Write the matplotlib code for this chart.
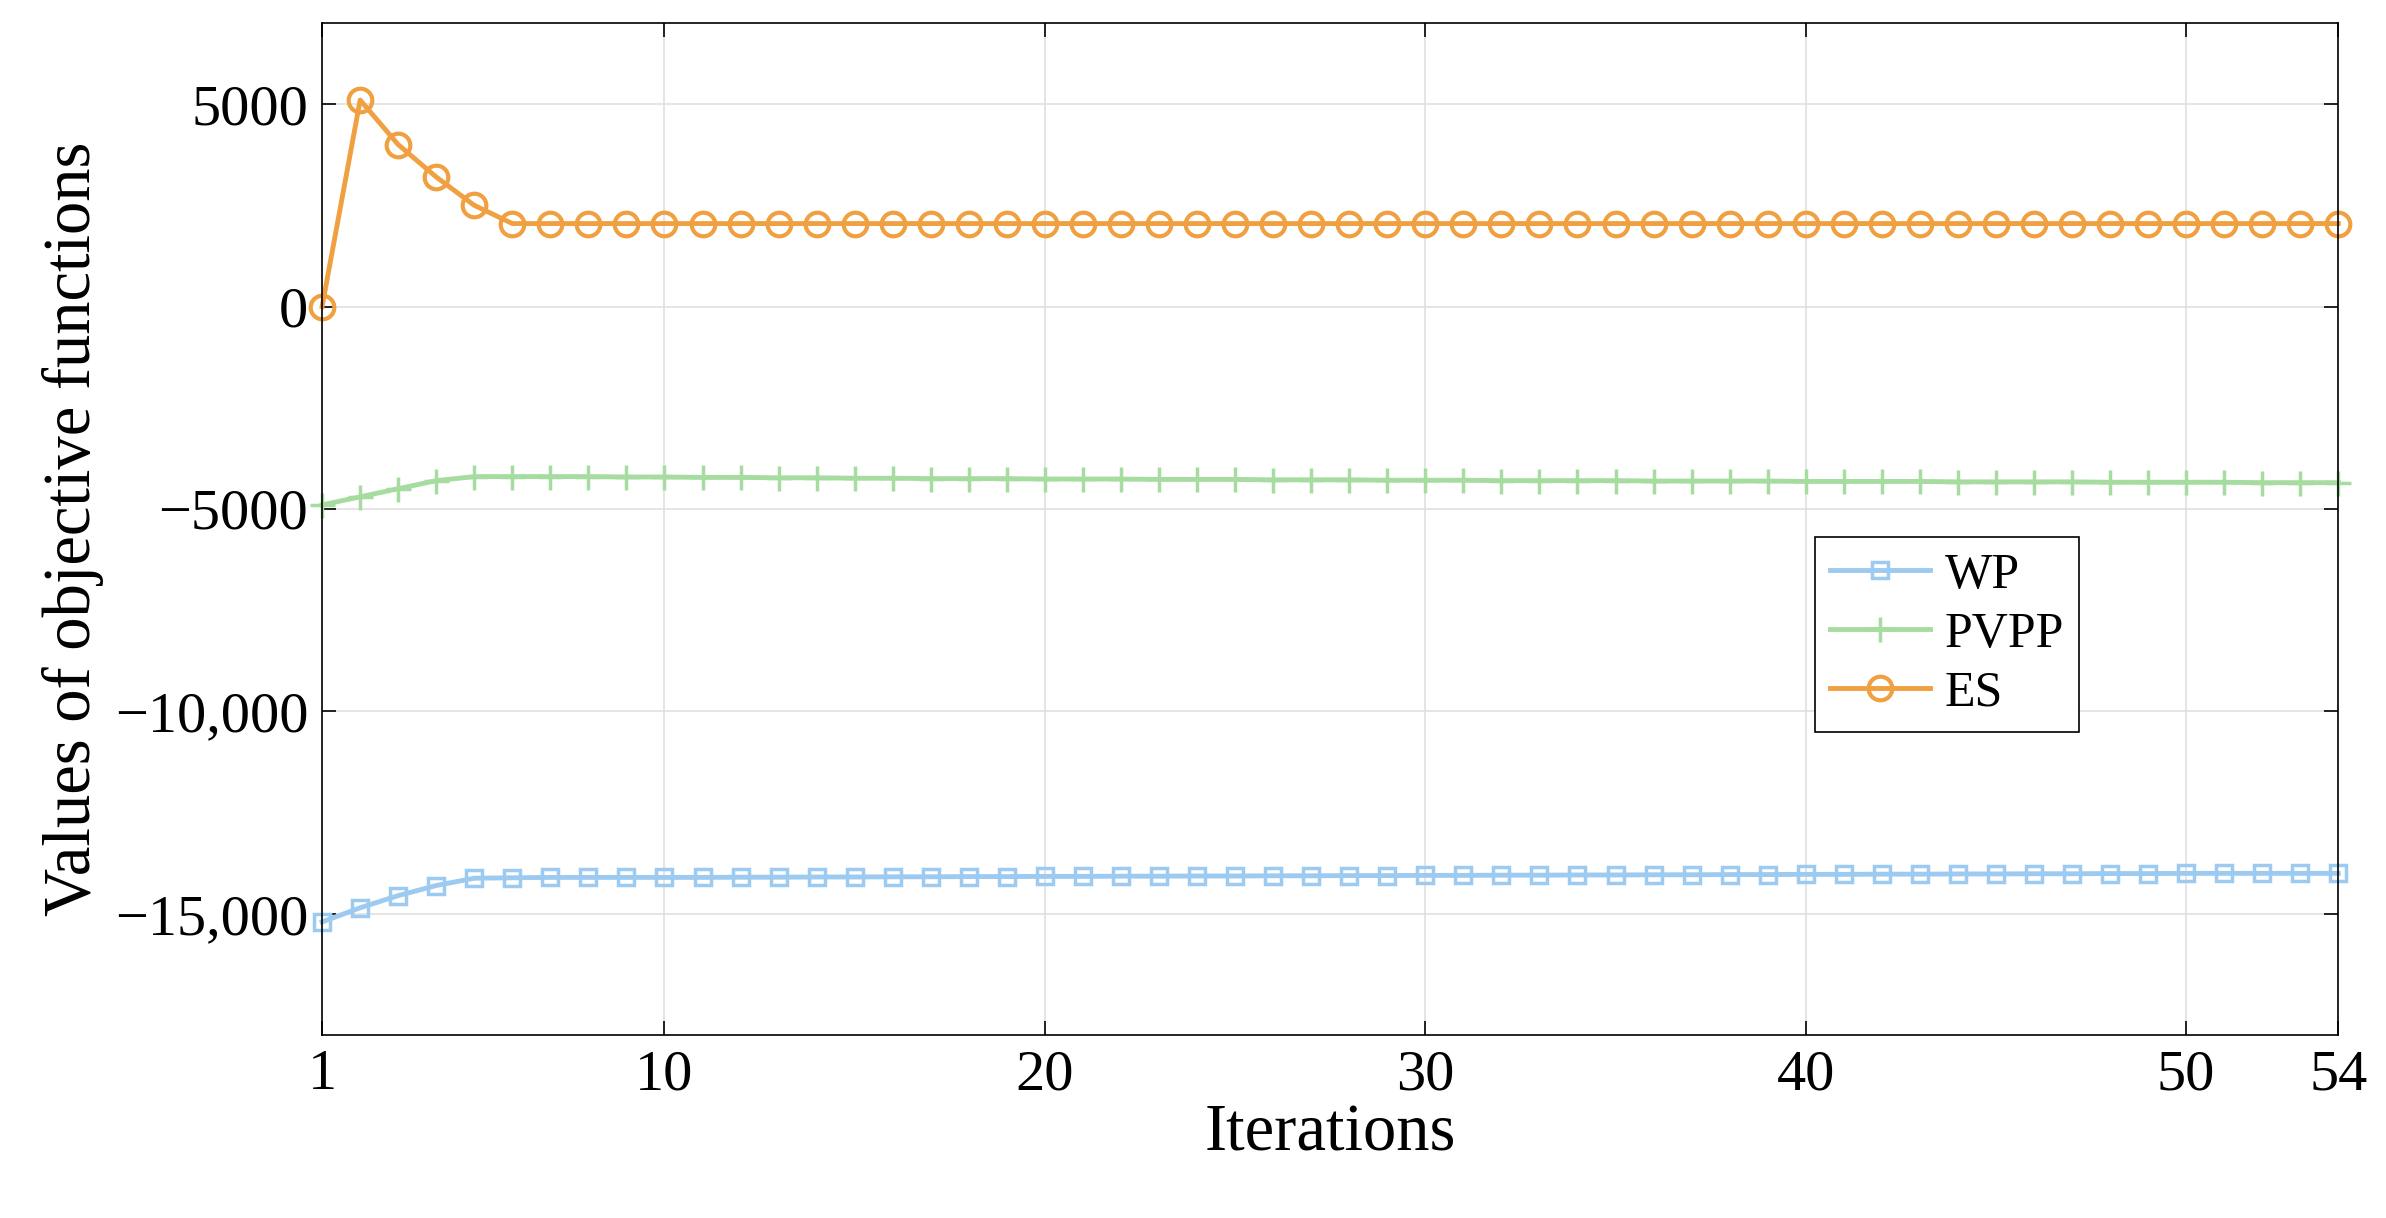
import numpy as np
import matplotlib.pyplot as plt

plt.rcParams['font.family'] = ['Liberation Serif', 'DejaVu Serif']

iters = list(range(1, 55))
es = [0, 5100, 4000, 3200, 2500, 2050] + [2050] * 48
pvpp = [-4900, -4700, -4500, -4300, -4200, -4200, -4200, -4200, -4210, -4210,
        -4220, -4220, -4230, -4230, -4240, -4240, -4250, -4250, -4250, -4260,
        -4260, -4260, -4270, -4270, -4270, -4280, -4280, -4280, -4290, -4290,
        -4290, -4300, -4300, -4300, -4300, -4310, -4310, -4310, -4310, -4320,
        -4320, -4320, -4320, -4330, -4330, -4330, -4330, -4340, -4340, -4340,
        -4340, -4350, -4350, -4350]
wp = [-15200, -14850, -14550, -14300, -14120, -14110, -14100, -14100, -14100, -14100,
      -14100, -14095, -14095, -14090, -14090, -14085, -14085, -14080, -14080, -14075,
      -14075, -14070, -14070, -14065, -14065, -14060, -14060, -14055, -14055, -14050,
      -14050, -14045, -14045, -14040, -14040, -14035, -14035, -14030, -14030, -14025,
      -14025, -14020, -14020, -14015, -14015, -14010, -14010, -14005, -14005, -14000,
      -14000, -14000, -14000, -14000]

fig = plt.figure(figsize=(23.86, 12.18), dpi=100)
ax = fig.add_axes([0.135, 0.15, 0.845, 0.831])

ax.plot(iters, wp, color='#9ccaf0', marker='s', ms=12, mfc='none', mew=2.5, lw=3.5, label='WP', clip_on=False)
ax.plot(iters, pvpp, color='#a6dca0', marker='+', ms=18, mew=2.5, lw=3.5, label='PVPP', clip_on=False)
ax.plot(iters, es, color='#f0a040', marker='o', ms=17, mfc='none', mew=3, lw=3.5, label='ES', clip_on=False)

ax.set_xlim(1, 54)
ax.set_ylim(-18000, 7000)
ax.set_xticks([1, 10, 20, 30, 40, 50, 54])
ax.set_yticks([5000, 0, -5000, -10000, -15000])
ax.set_yticklabels(['5000', '0', '\u22125000', '\u221210,000', '\u221215,000'])
ax.grid(True, color='#e0e0e0', lw=1.2)
ax.tick_params(direction='in', top=True, right=True, labelsize=42, length=10, width=1.2, pad=10)
for s in ax.spines.values():
    s.set_linewidth(1.2)
ax.set_xlabel('Iterations', fontsize=48, labelpad=2)
ax.set_ylabel('Values of objective functions', fontsize=48, labelpad=8)

leg = ax.legend(loc='lower left', bbox_to_anchor=(0.728, 0.275), fontsize=36,
                fancybox=False, edgecolor='black', framealpha=1,
                handlelength=2.0, handletextpad=0.3, borderpad=0.3, labelspacing=0.25)
leg.get_frame().set_linewidth(1.2)

fig.savefig('out.png', dpi=100)
